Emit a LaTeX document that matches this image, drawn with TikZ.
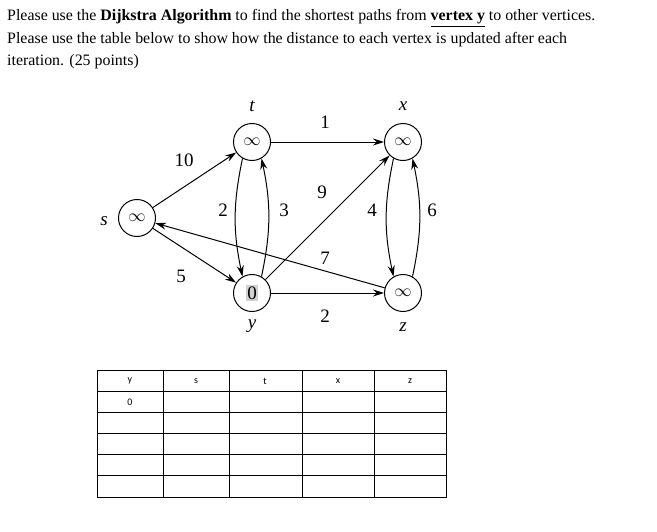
\documentclass[tikz,border=0pt]{standalone}
\usepackage{fontspec}
\setmainfont{Liberation Serif}
\newfontfamily\calfont{Carlito}
\usetikzlibrary{arrows.meta}
\begin{document}
\begin{tikzpicture}[x=1pt,y=-1pt,
  vtx/.style={circle,draw,line width=1pt,minimum size=37pt,inner sep=0pt,font=\fontsize{19}{19}\selectfont},
  edge/.style={draw,line width=1pt,-{Stealth[length=11pt,width=7pt]}},
  wl/.style={font=\fontsize{19}{19}\selectfont},
  vl/.style={font=\fontsize{19}{19}\selectfont\itshape},
  txt/.style={anchor=west,inner sep=0pt,font=\fontsize{15.9}{15.9}\selectfont},
  tc/.style={font=\calfont\fontsize{10}{10}\selectfont,inner sep=0pt}]
\useasboundingbox (0,0) rectangle (657,531);
\node[txt] (l1) at (7,18) {Please use the \textbf{Dijkstra Algorithm} to find the shortest paths from \underline{\textbf{vertex y}} to other vertices.};
\node[txt] (l2) at (7,40) {Please use the table below to show how the distance to each vertex is updated after each};
\node[txt] (l3) at (7,62) {iteration. (25 points)};
\node[vtx] (s) at (137,218) {$\infty$};
\node[vtx] (t) at (252,142) {$\infty$};
\node[vtx] (x) at (403,142) {$\infty$};
\node[vtx] (y) at (252,293) {\setlength{\fboxsep}{1.5pt}\colorbox{black!18}{0}};
\node[vtx] (z) at (403,293) {$\infty$};
\node[vl] (ls) at (104,221) {s};
\node[vl] (lt) at (252,106) {t};
\node[vl] (lx) at (403,106) {x};
\node[vl] (ly) at (252,326) {y};
\node[vl] (lz) at (403,327) {z};
\path[edge] (s) -- (t);
\path[edge] (s) -- (y);
\path[edge] (z) -- (s);
\path[edge] (t) -- (x);
\path[edge] (y) -- (x);
\path[edge] (y) -- (z);
\path[edge] (t.-120) to[bend right=12] (y.120);
\path[edge] (y.60) to[bend right=12] (t.-60);
\path[edge] (x.-120) to[bend right=12] (z.120);
\path[edge] (z.60) to[bend right=12] (x.-60);
\node[wl] (w10) at (184,160) {10};
\node[wl] (w5) at (181,276) {5};
\node[wl] (w2a) at (223,210) {2};
\node[wl] (w3) at (284,210) {3};
\node[wl] (w1) at (325,122) {1};
\node[wl] (w9) at (322,192) {9};
\node[wl] (w7) at (325,258) {7};
\node[wl] (w2b) at (325,316) {2};
\node[wl] (w4) at (372,210) {4};
\node[wl] (w6) at (432,210) {6};
% table
\draw[line width=1pt] (97,370) rectangle (446,497);
\foreach \xx in {163,229,302,374} \draw[line width=1pt] (\xx,370) -- (\xx,497);
\foreach \yy in {391,412,433,454,475} \draw[line width=1pt] (97,\yy) -- (446,\yy);
\node[tc] (hy) at (130,381) {y};
\node[tc] (hs) at (196,381) {s};
\node[tc] (ht) at (265,381) {t};
\node[tc] (hx) at (338,381) {x};
\node[tc] (hz) at (410,381) {z};
\node[tc] (v0) at (130,402) {0};
\end{tikzpicture}
\end{document}
